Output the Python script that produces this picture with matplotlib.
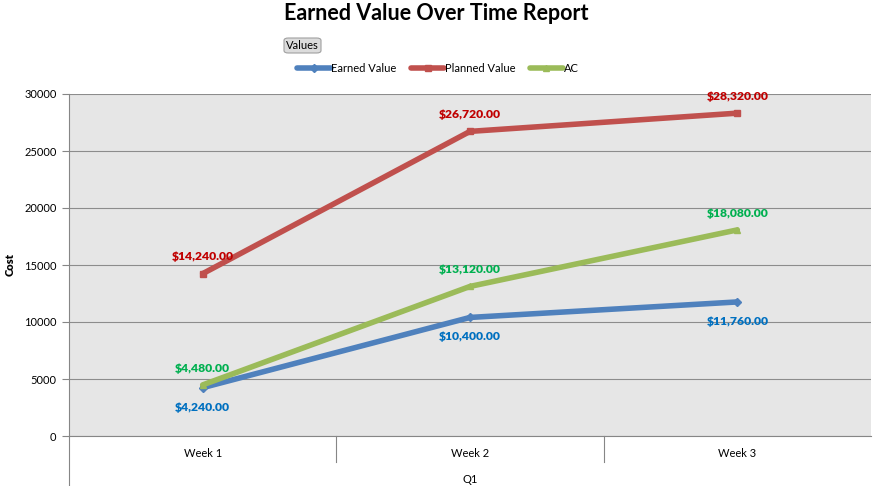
import matplotlib.pyplot as plt
from matplotlib.patches import FancyBboxPatch
from matplotlib.lines import Line2D

plt.rcParams['font.family'] = ['Lato', 'DejaVu Sans']

weeks = ['Week 1', 'Week 2', 'Week 3']
earned = [4240, 10400, 11760]
planned = [14240, 26720, 28320]
actual = [4480, 13120, 18080]

W, H = 878, 486
fig = plt.figure(figsize=(W / 100, H / 100), dpi=100)
ax = fig.add_axes([69 / W, (H - 436) / H, (871 - 69) / W, (436 - 94) / H])
ax.set_facecolor('#e6e6e6')

x = [0, 1, 2]
series = [
    ('Earned Value', earned, '#4f81bd', 'D', '#0070c0', -14),
    ('Planned Value', planned, '#c0504d', 's', '#c00000', 12),
    ('AC', actual, '#9bbb59', '^', '#00b050', 12),
]
for name, vals, col, mk, lcol, off in series:
    ax.plot(x, vals, color=col, lw=4, marker=mk, ms=4, label=name, solid_capstyle='round')
    for xi, v in zip(x, vals):
        ax.annotate(f'${v:,.2f}', (xi, v), xytext=(0, off), textcoords='offset points',
                    ha='center', va='center', color=lcol, fontsize=8.7, fontweight='heavy')

ax.set_xlim(-0.5, 2.5)
ax.set_ylim(0, 30000)
ax.set_yticks(range(0, 30001, 5000))
ax.tick_params(axis='y', labelsize=8, length=5, color='#868686', pad=4)
ax.set_xticks([])
ax.grid(axis='y', color='#8c8c8c', lw=0.8)
ax.set_axisbelow(True)
for s in ['top', 'right']:
    ax.spines[s].set_visible(False)
ax.spines['left'].set_color('#868686')
ax.spines['bottom'].set_color('#868686')
ax.set_ylabel('Cost', fontsize=8, fontweight='heavy', labelpad=6)

# category axis boxes below the plot
px = 1 / (436 - 94)
for b in [1 / 3, 2 / 3]:
    ax.add_line(Line2D([b, b], [0, -26 * px], transform=ax.transAxes, color='#868686', lw=0.8, clip_on=False))
ax.add_line(Line2D([0, 0], [0, -50 * px], transform=ax.transAxes, color='#868686', lw=0.8, clip_on=False))
for i, w in enumerate(weeks):
    ax.text(i, -17 * px, w, transform=ax.get_xaxis_transform(), ha='center', va='center', fontsize=8)
ax.text(0.5, -43 * px, 'Q1', transform=ax.transAxes, ha='center', va='center', fontsize=8)

fig.text(436 / W, 1 - 13 / H, 'Earned Value Over Time Report', ha='center', va='center',
         fontsize=15.5, fontweight='bold')

# "Values" field button
fig.patches.append(FancyBboxPatch((284 / W, 1 - 53 / H), 37 / W, 15 / H,
                                  boxstyle='round,pad=0,rounding_size=0.005',
                                  transform=fig.transFigure, fc='#dcdcdc', ec='#a0a0a0', lw=0.8))
fig.text(302.5 / W, 1 - 45.5 / H, 'Values', ha='center', va='center', fontsize=8)

fig.legend(*ax.get_legend_handles_labels(), loc='center', bbox_to_anchor=(438 / W, 1 - 68 / H),
           ncol=3, frameon=False, fontsize=8, handlelength=3.0, handletextpad=0.05, columnspacing=1.3)

fig.savefig('out.png', dpi=100)
